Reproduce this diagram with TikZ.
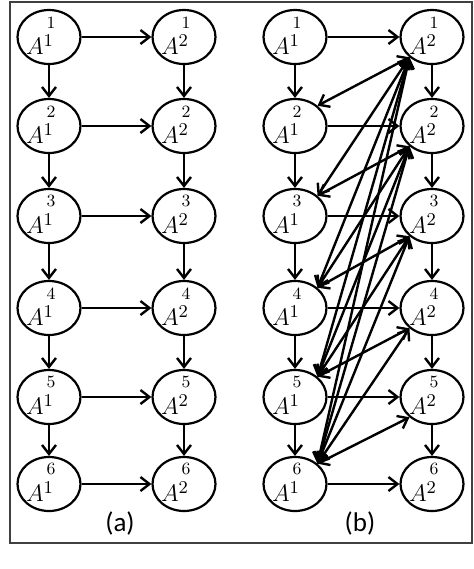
\documentclass[tikz,border=0pt]{standalone}
\usepackage{amsmath}
\usepackage{fontspec}
\newfontfamily\capfont{Carlito}
\usetikzlibrary{positioning, arrows.meta, shapes.geometric}

\begin{document}
\begin{tikzpicture}[
    x=0.5pt, y=-0.5pt,
    cell/.style 2 args={ellipse, draw=black, line width=1.1pt, minimum width=31.5pt, minimum height=27pt, inner sep=0pt,
        label={[num]center:#1}, label={[sym]center:$A^{#2}$}},
    num/.style={font=\fontsize{8.6}{9}\selectfont, xshift=1pt, yshift=7.3pt, inner sep=0pt},
    sym/.style={font=\fontsize{12.5}{13}\selectfont, xshift=-4.5pt, yshift=-3.8pt, inner sep=0pt},
    arrow/.style={-{Straight Barb[length=4.5pt, width=7pt]}, line width=1.2pt},
    link/.style={{Straight Barb[length=4.5pt, width=7pt]}-{Straight Barb[length=4.5pt, width=7pt]}, line width=1.2pt}
]
    \useasboundingbox (0,0) rectangle (474,569);
    \draw[black!75, line width=1.2pt] (10,2) rectangle (472,543);

    % Blocks, panels (a) and (b)
    \foreach \k/\y in {1/37, 2/126, 3/216, 4/308, 5/397, 6/484} {
        \node[cell={\k}{1}] (pa1\k) at (49,\y) {};
        \node[cell={\k}{2}] (pa2\k) at (184,\y) {};
        \node[cell={\k}{1}] (pb1\k) at (295,\y) {};
        \node[cell={\k}{2}] (pb2\k) at (432,\y) {};
    }

    % Horizontal and vertical arrows
    \foreach \k in {1,...,6} {
        \draw[arrow] (pa1\k) -- (pa2\k);
        \draw[arrow] (pb1\k) -- (pb2\k);
    }
    \foreach \k [count=\n from 2] in {1,...,5} {
        \draw[arrow] (pa1\k) -- (pa1\n);
        \draw[arrow] (pa2\k) -- (pa2\n);
        \draw[arrow] (pb1\k) -- (pb1\n);
        \draw[arrow] (pb2\k) -- (pb2\n);
    }

    % Cross links in (b)
    \foreach \i in {1,...,5} {
        \pgfmathtruncatemacro{\s}{\i+1}
        \foreach \j in {\s,...,6}
            \draw[link] (pb2\i.222) -- (pb1\j.42);
    }

    \node[font=\capfont\fontsize{13.5}{14}\selectfont] (capa) at (120,523) {(a)};
    \node[font=\capfont\fontsize{13.5}{14}\selectfont] (capb) at (360,523) {(b)};
\end{tikzpicture}
\end{document}
